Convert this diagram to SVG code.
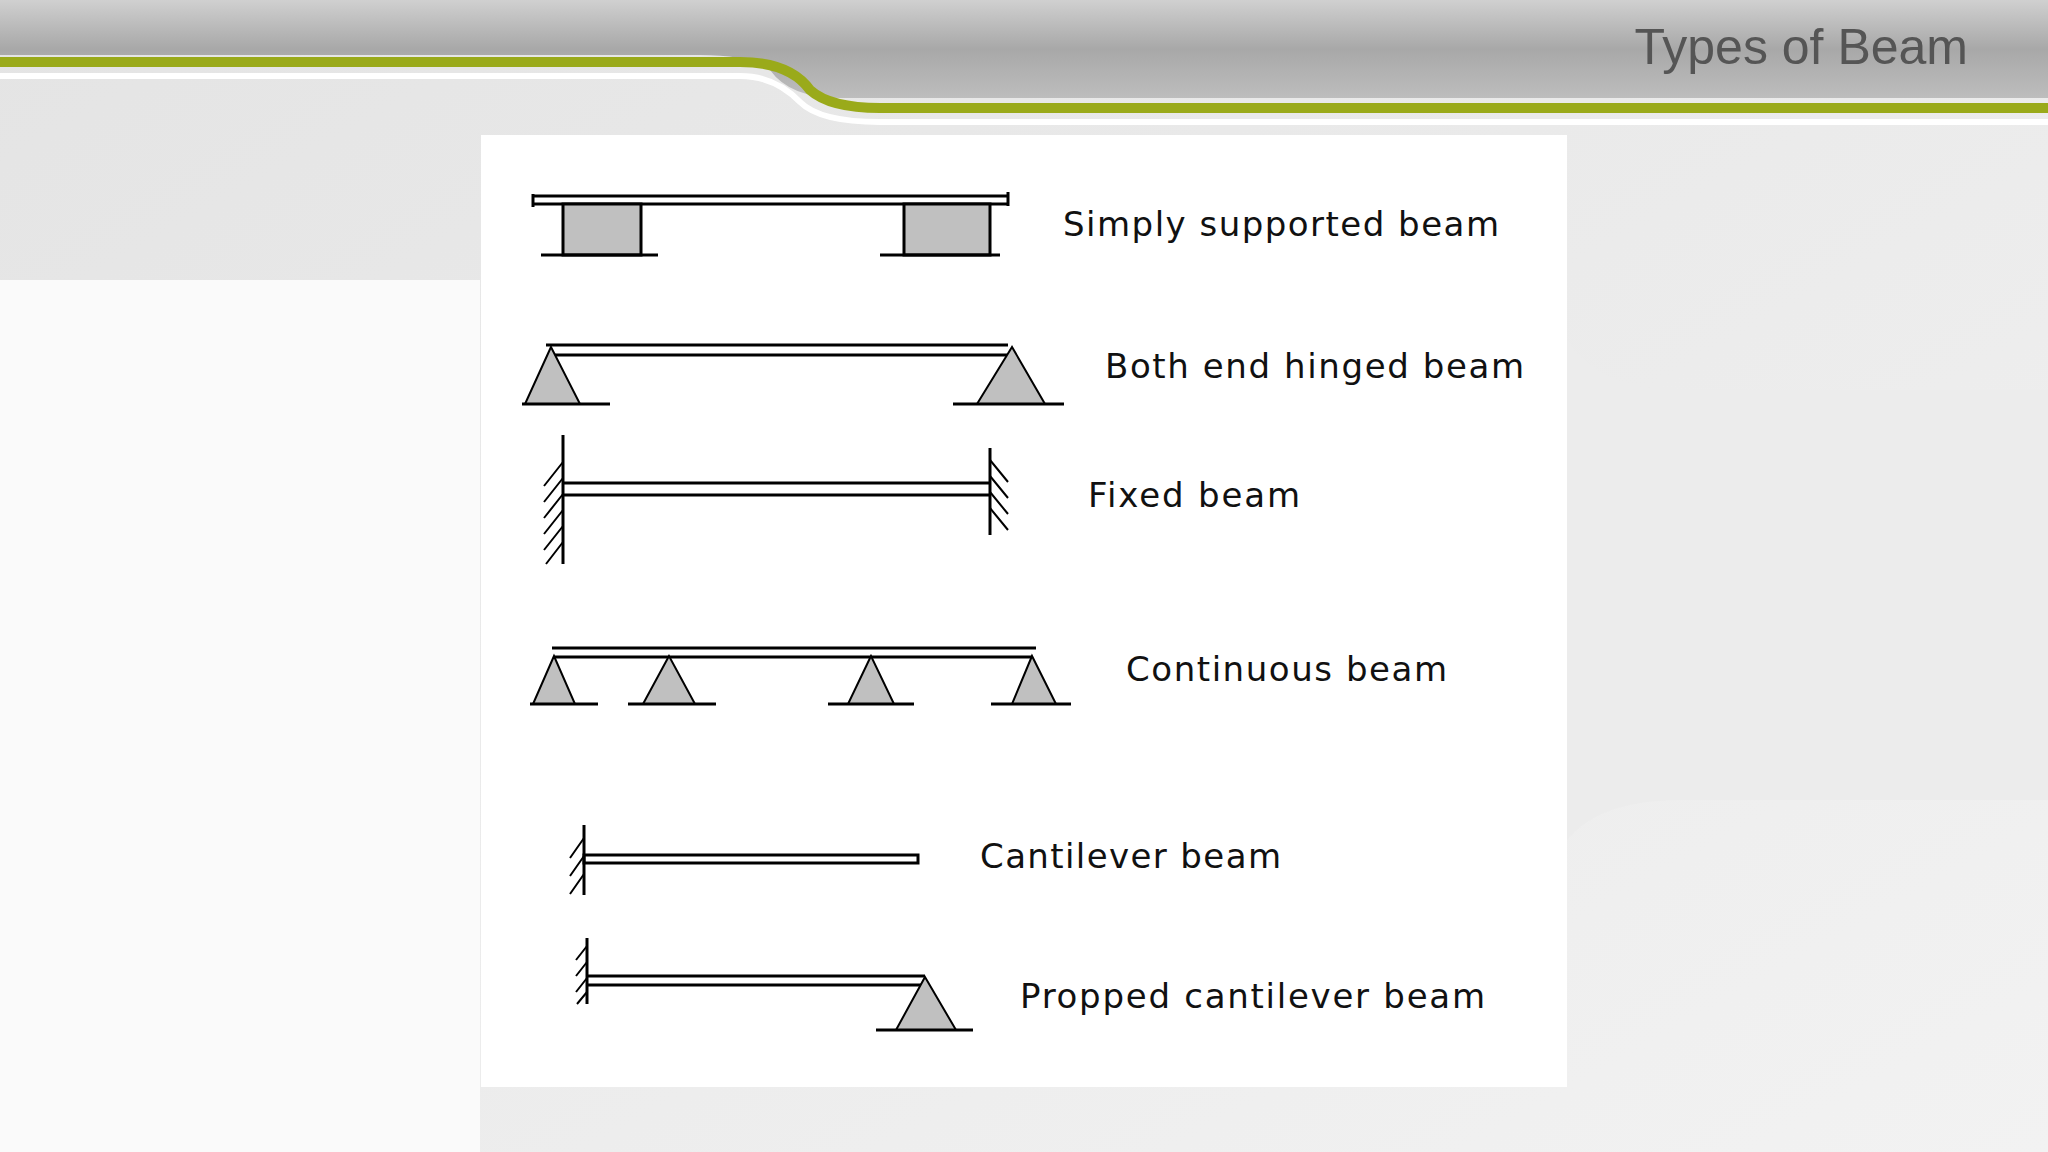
<svg xmlns="http://www.w3.org/2000/svg" width="2048" height="1152" viewBox="0 0 2048 1152">
<defs>
<linearGradient id="hdr" x1="0" y1="0" x2="0" y2="1"><stop offset="0" stop-color="#d0d0d0"/><stop offset="0.5" stop-color="#a8a8a8"/><stop offset="1" stop-color="#bdbdbd"/></linearGradient>
<linearGradient id="bg" x1="0" y1="0" x2="1" y2="1"><stop offset="0" stop-color="#e4e4e4"/><stop offset="1" stop-color="#f2f2f2"/></linearGradient>
<style>
.ln{stroke:#000;stroke-width:3;fill:none}
.tri{fill:#c0c0c0;stroke:#000;stroke-width:2}
.blk{fill:#c0c0c0;stroke:#000;stroke-width:3}
.lbl{font-family:"DejaVu Sans",sans-serif;font-size:34px;fill:#111}
.h{stroke:#000;stroke-width:2}
</style>
</defs>
<rect width="2048" height="1152" fill="url(#bg)"/>
<rect x="0" y="280" width="480" height="872" fill="#fafafa"/>
<path d="M1567 340 Q1600 390 1680 390 L2048 390 L2048 800 L1680 800 Q1600 800 1567 840 Z" fill="#ececec"/>
<path d="M0 0 H2048 V98 H840 Q790 98 770 70 Q750 55 700 55 H0 Z" fill="url(#hdr)"/>
<path d="M0 62 H740 Q790 62 810 90 Q830 108 880 108 H2048" stroke="#9aaa1a" stroke-width="10" fill="none"/>
<path d="M0 76 H740 Q775 76 800 102 Q820 122 880 122 H2048" stroke="#ffffff" stroke-width="6" fill="none"/>
<text x="1968" y="64" text-anchor="end" font-family="Liberation Sans, sans-serif" font-size="50" fill="#555">Types of Beam</text>
<rect x="481" y="135" width="1086" height="952" fill="#ffffff"/>
<g id="connectors"></g>
<g id="simply">
<line class="ln" x1="533" y1="196" x2="1008" y2="196"/><line class="ln" x1="533" y1="204" x2="1008" y2="204"/>
<line class="ln" x1="533" y1="194" x2="533" y2="207"/><line class="ln" x1="1008" y1="192" x2="1008" y2="206"/>
<rect class="blk" x="563" y="204" width="78" height="51"/><rect class="blk" x="904" y="204" width="86" height="51"/>
<line class="ln" x1="541" y1="255" x2="658" y2="255"/><line class="ln" x1="880" y1="255" x2="1000" y2="255"/>
<text class="lbl" x="1063" y="236" textLength="436">Simply supported beam</text>
</g>
<g id="hinged">
<line class="ln" x1="546" y1="345" x2="1008" y2="345"/><line class="ln" x1="551" y1="355" x2="1012" y2="355"/>
<polygon class="tri" points="551,347 525,404 580,404"/><polygon class="tri" points="1012,347 977,404 1045,404"/>
<line class="ln" x1="522" y1="404" x2="610" y2="404"/><line class="ln" x1="953" y1="404" x2="1064" y2="404"/>
<text class="lbl" x="1105" y="378" textLength="419">Both end hinged beam</text>
</g>
<g id="fixed">
<line class="ln" x1="563" y1="435" x2="563" y2="564"/><line class="ln" x1="990" y1="448" x2="990" y2="535"/>
<line class="ln" x1="563" y1="483" x2="990" y2="483"/><line class="ln" x1="563" y1="495" x2="990" y2="495"/>
<path class="h" d="M563 462 L544 486 M563 478 L544 502 M563 494 L544 518 M563 510 L544 534 M563 526 L544 550 M563 542 L546 564"/>
<path class="h" d="M990 460 L1008 482 M990 476 L1008 498 M990 492 L1008 514 M990 508 L1008 530"/>
<text class="lbl" x="1088" y="507" textLength="212">Fixed beam</text>
</g>
<g id="continuous">
<line class="ln" x1="552" y1="648" x2="1036" y2="648"/><line class="ln" x1="554" y1="657" x2="1032" y2="657"/>
<polygon class="tri" points="554,656 533,704 575,704"/><polygon class="tri" points="669,656 643,704 695,704"/>
<polygon class="tri" points="871,656 848,704 894,704"/><polygon class="tri" points="1032,656 1012,704 1056,704"/>
<line class="ln" x1="530" y1="704" x2="598" y2="704"/><line class="ln" x1="628" y1="704" x2="716" y2="704"/>
<line class="ln" x1="828" y1="704" x2="914" y2="704"/><line class="ln" x1="991" y1="704" x2="1071" y2="704"/>
<text class="lbl" x="1126" y="681" textLength="321">Continuous beam</text>
</g>
<g id="cantilever">
<line class="ln" x1="584" y1="825" x2="584" y2="895"/>
<rect x="584" y="855" width="334" height="8" fill="none" stroke="#000" stroke-width="3"/>
<path class="h" d="M584 838 L570 858 M584 856 L570 876 M584 874 L570 894"/>
<text class="lbl" x="980" y="868" textLength="301">Cantilever beam</text>
</g>
<g id="propped">
<line class="ln" x1="587" y1="938" x2="587" y2="1004"/>
<line class="ln" x1="587" y1="976" x2="925" y2="976"/><line class="ln" x1="587" y1="985" x2="922" y2="985"/>
<path class="h" d="M587 946 L576 960 M587 962 L576 976 M587 978 L576 992 M587 992 L577 1004"/>
<polygon class="tri" points="925,977 896,1030 956,1030"/>
<line class="ln" x1="876" y1="1030" x2="973" y2="1030"/>
<text class="lbl" x="1020" y="1008" textLength="465">Propped cantilever beam</text>
</g>
</svg>
